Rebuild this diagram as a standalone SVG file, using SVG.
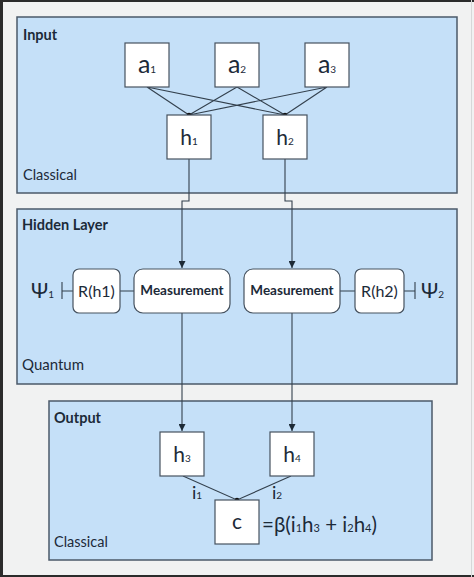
<svg xmlns="http://www.w3.org/2000/svg" width="474" height="577" viewBox="0 0 474 577">
<defs>
<style>
.panel{fill:#c5e0f8;stroke:#4b5a69;stroke-width:1.5}
.box{fill:#ffffff;stroke:#46525f;stroke-width:1.2}
.ln{fill:none;stroke:#33404d;stroke-width:1.1}
.t{font-family:Lato,"Liberation Sans",sans-serif;fill:#1c2a38}
.b{font-weight:bold}
.dot{fill:#111}
</style>
<marker id="ah" viewBox="0 0 10 10" refX="10" refY="5" markerWidth="7" markerHeight="7" markerUnits="userSpaceOnUse" orient="auto">
<path d="M0,0 L10,5 L0,10 z" fill="#1d2a36"/>
</marker>
</defs>
<rect x="0" y="0" width="474" height="577" fill="#f1f2f2"/>
<rect x="0" y="0" width="474" height="2" fill="#2b2b2b"/>
<rect x="0" y="0" width="3" height="577" fill="#2b2b2b"/>
<rect x="0" y="575" width="474" height="2" fill="#2b2b2b"/>
<rect x="471" y="0" width="1" height="577" fill="#d6d8d8"/>

<g id="panel-input">
<rect class="panel" x="17" y="17" width="440" height="176"/>
<text class="t b" x="23" y="40" font-size="14.5">Input</text>
<text class="t" x="23" y="180" font-size="14.5">Classical</text>
</g>
<g id="panel-hidden">
<rect class="panel" x="17" y="209" width="440" height="175"/>
<text class="t b" x="22" y="230" font-size="14.5">Hidden Layer</text>
<text class="t" x="22" y="370" font-size="15">Quantum</text>
</g>
<g id="panel-output">
<rect class="panel" x="49" y="401" width="383" height="159"/>
<text class="t b" x="54" y="423" font-size="14.5">Output</text>
<text class="t" x="54" y="547" font-size="14.5">Classical</text>
</g>

<g id="connectors">
<path class="ln" d="M147 87 L189 115 M147 87 L285 115 M237 87 L189 115 M237 87 L285 115 M327 87 L189 115 M327 87 L285 115"/>
<path class="ln" d="M189 159 V201 H182 V268" marker-end="url(#ah)"/>
<path class="ln" d="M285 159 V201 H292 V268" marker-end="url(#ah)"/>
<path class="ln" d="M182 313 V431" marker-end="url(#ah)"/>
<path class="ln" d="M292 313 V431" marker-end="url(#ah)"/>
<path class="ln" d="M62 291 H73 M120 291 H134 M340 291 H355 M404 291 H415"/>
<path class="ln" stroke-width="1.8" d="M62 282 V299 M415 282 V299"/>
<path class="ln" d="M183 476 L237 500 L291 476"/>
<circle class="dot" cx="189" cy="115" r="2.3"/>
<circle class="dot" cx="285" cy="115" r="2.3"/>
<circle class="dot" cx="237" cy="500" r="2.3"/>
<text class="t" x="192" y="499" font-size="18">i<tspan font-size="10">1</tspan></text>
<text class="t" x="272" y="499" font-size="18">i<tspan font-size="10">2</tspan></text>
</g>

<g id="a1"><rect class="box" x="125" y="43" width="44" height="44"/><text class="t" x="147" y="73" font-size="25" text-anchor="middle">a<tspan font-size="10">1</tspan></text></g>
<g id="a2"><rect class="box" x="215" y="43" width="44" height="44"/><text class="t" x="237" y="73" font-size="25" text-anchor="middle">a<tspan font-size="10">2</tspan></text></g>
<g id="a3"><rect class="box" x="305" y="43" width="44" height="44"/><text class="t" x="327" y="73" font-size="25" text-anchor="middle">a<tspan font-size="10">3</tspan></text></g>
<g id="h1"><rect class="box" x="167" y="115" width="44" height="44"/><text class="t" x="189" y="145" font-size="21" text-anchor="middle">h<tspan font-size="10">1</tspan></text></g>
<g id="h2"><rect class="box" x="263" y="115" width="44" height="44"/><text class="t" x="285" y="145" font-size="21" text-anchor="middle">h<tspan font-size="10">2</tspan></text></g>

<g id="psi1"><text class="t" x="31" y="298" font-size="21">Ψ<tspan font-size="10">1</tspan></text></g>
<g id="rh1"><rect class="box" x="73" y="269" width="47" height="44" rx="6"/><text class="t" x="96.5" y="297" font-size="16" text-anchor="middle">R(h1)</text></g>
<g id="meas1"><rect class="box" x="134" y="269" width="96" height="44" rx="9"/><text class="t b" x="182" y="295" font-size="13.5" text-anchor="middle">Measurement</text></g>
<g id="meas2"><rect class="box" x="244" y="269" width="96" height="44" rx="9"/><text class="t b" x="292" y="295" font-size="13.5" text-anchor="middle">Measurement</text></g>
<g id="rh2"><rect class="box" x="355" y="269" width="49" height="44" rx="6"/><text class="t" x="379.5" y="297" font-size="16" text-anchor="middle">R(h2)</text></g>
<g id="psi2"><text class="t" x="421" y="298" font-size="21">Ψ<tspan font-size="10">2</tspan></text></g>

<g id="h3"><rect class="box" x="160" y="432" width="44" height="44"/><text class="t" x="182" y="462" font-size="21" text-anchor="middle">h<tspan font-size="10">3</tspan></text></g>
<g id="h4"><rect class="box" x="270" y="432" width="44" height="44"/><text class="t" x="292" y="462" font-size="21" text-anchor="middle">h<tspan font-size="10">4</tspan></text></g>
<g id="c"><rect class="box" x="215" y="500" width="44" height="44"/><text class="t" x="237" y="529" font-size="21" text-anchor="middle">c</text></g>
<g id="formula"><text class="t" x="262" y="532" font-size="20.5">=β(i<tspan font-size="11">1</tspan>h<tspan font-size="11">3</tspan> + i<tspan font-size="11">2</tspan>h<tspan font-size="11">4</tspan>)</text></g>
</svg>
